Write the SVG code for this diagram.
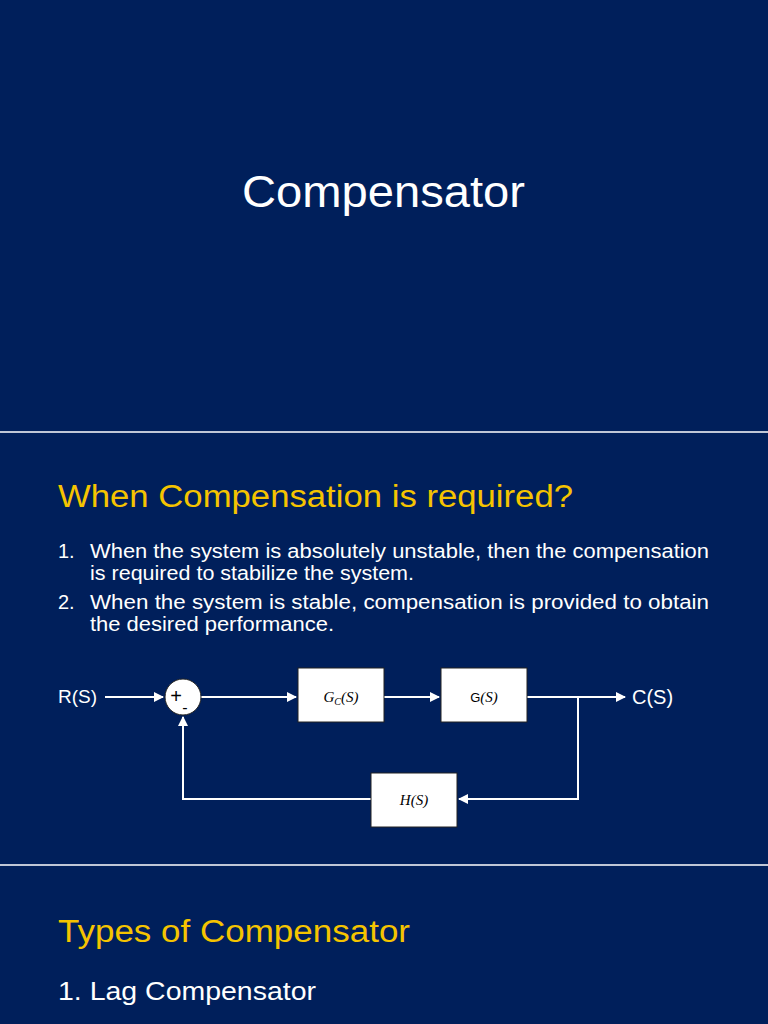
<svg xmlns="http://www.w3.org/2000/svg" width="768" height="1024" viewBox="0 0 768 1024">
<style>
.t{font-family:"Liberation Sans",Arial,sans-serif;fill:#fff}
.y{font-family:"Liberation Sans",Arial,sans-serif;fill:#f5c400}
.b{fill:#fff;stroke:#222;stroke-width:1}
.m{font-family:"Liberation Serif",serif;font-style:italic;font-size:15px;fill:#000;text-anchor:middle}
.c{stroke:#fff;stroke-width:2;fill:none}
</style>
<defs><marker id="a" viewBox="0 0 10 10" refX="9" refY="5" markerWidth="5" markerHeight="5" orient="auto"><path d="M0,0L10,5L0,10z" fill="#fff"/></marker></defs>
<rect width="768" height="1024" fill="#001f5b"/>
<text class="t" x="242" y="207" font-size="44" textLength="283" lengthAdjust="spacingAndGlyphs">Compensator</text>
<line x1="0" y1="432" x2="768" y2="432" stroke="#fff" stroke-width="1.5"/>
<line x1="0" y1="865" x2="768" y2="865" stroke="#fff" stroke-width="1.5"/>
<text class="y" x="58" y="507" font-size="31" textLength="515" lengthAdjust="spacingAndGlyphs">When Compensation is required?</text>
<g class="t" font-size="20">
<text x="58" y="558">1.</text><text x="90" y="558" textLength="619" lengthAdjust="spacingAndGlyphs">When the system is absolutely unstable, then the compensation</text>
<text x="90" y="580" textLength="324" lengthAdjust="spacingAndGlyphs">is required to stabilize the system.</text>
<text x="58" y="609">2.</text><text x="90" y="609" textLength="619" lengthAdjust="spacingAndGlyphs">When the system is stable, compensation is provided to obtain</text>
<text x="90" y="631" textLength="244" lengthAdjust="spacingAndGlyphs">the desired performance.</text>
</g>
<g id="conn">
<line class="c" x1="105" y1="697" x2="163" y2="697" marker-end="url(#a)"/>
<line class="c" x1="201" y1="697" x2="296" y2="697" marker-end="url(#a)"/>
<line class="c" x1="384" y1="697" x2="439" y2="697" marker-end="url(#a)"/>
<line class="c" x1="527" y1="697" x2="625" y2="697" marker-end="url(#a)"/>
<polyline class="c" points="578,697 578,799 459,799" marker-end="url(#a)"/>
<polyline class="c" points="371,799 183,799 183,717" marker-end="url(#a)"/>
</g>
<g id="sum"><circle cx="183" cy="697" r="18" fill="#fff" stroke="#222"/><text x="176" y="703" font-family="Liberation Sans,sans-serif" font-size="20" text-anchor="middle">+</text><text x="185" y="713" font-family="Liberation Sans,sans-serif" font-size="16" text-anchor="middle">-</text></g>
<g id="gc"><rect class="b" x="298" y="668" width="86" height="54"/><text class="m" x="341" y="702">G<tspan font-size="10" dy="3">C</tspan><tspan dy="-3">(S)</tspan></text></g>
<g id="g"><rect class="b" x="441" y="668" width="86" height="54"/><text class="m" x="484" y="702"><tspan font-style="normal" font-family="Liberation Sans,sans-serif" font-size="13">G</tspan>(S)</text></g>
<g id="h"><rect class="b" x="371" y="773" width="86" height="54"/><text class="m" x="414" y="805">H(S)</text></g>
<text class="t" x="58" y="703" font-size="19">R(S)</text>
<text class="t" x="632" y="704" font-size="20">C(S)</text>
<text class="y" x="58" y="942" font-size="31" textLength="352" lengthAdjust="spacingAndGlyphs">Types of  Compensator</text>
<text class="t" x="58" y="1000" font-size="26" textLength="258" lengthAdjust="spacingAndGlyphs">1. Lag Compensator</text>
<text class="t" x="58" y="1045" font-size="26">2. Lead Compensator</text>
</svg>
